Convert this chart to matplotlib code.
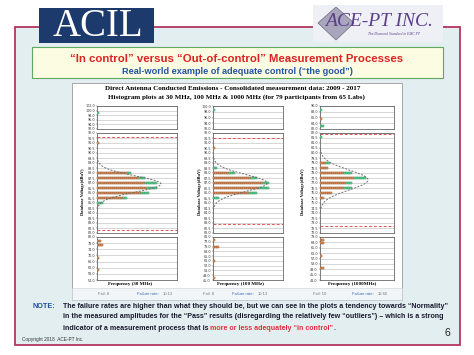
import matplotlib
matplotlib.use('Agg')
import matplotlib.pyplot as plt
import numpy as np
from matplotlib.patches import Rectangle, Polygon

# ---------------- data ----------------
freq_labels = ["Frequency (30 MHz)", "Frequency (100 MHz)", "Frequency (1000MHz)"]
fail_counts = [8, 8, 10]
failure_rates = ["10.13", "10.13", "12.66"]

# panel 1: 30 MHz
p1_top_vals = [99.0]
p1_top_orange = [0]
p1_top_green = [1]
p1_mid_vals = [91.0, 88.0, 87.5, 87.0, 86.5, 86.0, 85.5, 85.0]
p1_mid_orange = [1, 15, 21, 24, 25, 22, 13, 0]
p1_mid_green = [0, 2, 3, 6, 5, 4, 2, 3]
p1_bot_vals = [79.5, 76.5, 68.5, 60.5]
p1_bot_orange = [2, 3, 1, 1]
p1_bot_green = [0, 0, 0, 0]
p1_limits = [91.6, 82.3]
p1_fit = [86.9, 0.8, 32.0]   # mean, sd, peak

# panel 2: 100 MHz
p2_top_vals = [98.5]
p2_top_orange = [0]
p2_top_green = [1]
p2_mid_vals = [90.5, 88.5, 88.0, 87.5, 87.0, 86.5, 86.0, 85.5]
p2_mid_orange = [1, 0, 8, 19, 25, 23, 18, 0]
p2_mid_green = [0, 2, 3, 3, 3, 5, 4, 3]
p2_bot_vals = [78.5, 73.0, 60.5, 47.0]
p2_bot_orange = [1, 3, 1, 1]
p2_bot_green = [0, 0, 0, 0]
p2_limits = [91.5, 82.9]
p2_fit = [87.0, 0.85, 27.0]

# panel 3: 1000 MHz
p3_top_vals = [88.5, 85.5, 83.0]
p3_top_orange = [0, 1, 0]
p3_top_green = [1, 0, 2]
p3_mid_vals = [81.6, 79.0, 78.5, 78.0, 77.5, 77.0, 76.5, 76.0, 75.5]
p3_mid_orange = [0, 3, 4, 12, 17, 13, 12, 6, 2]
p3_mid_green = [1, 2, 0, 4, 6, 3, 4, 0, 0]
p3_bot_vals = [71.0, 68.5, 58.5, 50.0]
p3_bot_orange = [2, 2, 1, 2]
p3_bot_green = [0, 0, 0, 0]
p3_limits = [81.9, 72.7]
p3_fit = [77.3, 1.0, 24.0]

# ---------------- layout helpers ----------------
W, H = 474, 355
fig = plt.figure(figsize=(4.74, 3.55), dpi=100)

def ax_px(x0, y0, x1, y1):
    return fig.add_axes([x0 / W, 1 - y1 / H, (x1 - x0) / W, (y1 - y0) / H])

bg = ax_px(0, 0, W, H)
bg.set_xlim(0, W)
bg.set_ylim(H, 0)
bg.axis('off')

TXT = '#1a1a2e'

# slide frame
bg.add_patch(Rectangle((15, 27), 445, 318, fc='#e3eef0', ec='#b5365e', lw=1.3, zorder=1))

# ACIL logo
bg.add_patch(Rectangle((39, 8), 115, 35, fc='#1d3a6c', ec='none', zorder=3))
bg.text(98, 26, "ACIL", color='white', fontsize=28, family='Liberation Serif',
        ha='center', va='center', zorder=4)

# ACE-PT logo
bg.add_patch(Rectangle((313, 5), 130, 37, fc='#eef0f5', ec='none', zorder=3))
bg.add_patch(Polygon([[336, 7], [354, 23], [336, 40], [318, 23]], closed=True,
                     fc='#a9a6bb', ec='#6d6a85', lw=0.5, zorder=4))
bg.text(325, 21, "ACE-PT INC.", color='#5b3f8e', fontsize=14, family='Liberation Serif',
        style='italic', ha='left', va='center', zorder=5)
bg.text(394, 34, "The Diamond Standard in EMC PT", color='#5b3f8e', fontsize=2.6,
        family='Liberation Serif', style='italic', ha='center', va='center', zorder=5)

# title box
bg.add_patch(Rectangle((32, 47), 411, 31, fc='#fbfce2', ec='#5fa860', lw=0.8, zorder=2))
bg.text(237, 58.5, "\u201cIn control\u201d versus \u201cOut-of-control\u201d Measurement Processes",
        color='#dd2222', fontsize=8.2, fontweight='bold', family='Liberation Sans',
        ha='center', va='center', zorder=3)
bg.text(237, 71.5, "Real-world example of adequate control (\u201cthe good\u201d)",
        color='#1f56a8', fontsize=6.6, fontweight='bold', family='Liberation Sans',
        ha='center', va='center', zorder=3)

# chart image frame
bg.add_patch(Rectangle((72, 83), 330, 217, fc='white', ec='#999999', lw=0.6, zorder=2))
bg.add_patch(Rectangle((72, 288), 330, 12, fc='#f2f5f8', ec='#c8d0d8', lw=0.4, zorder=2))
bg.text(233, 88.5, "Direct Antenna Conducted Emissions - Consolidated measurement data: 2009 - 2017",
        fontsize=5.1, fontweight='bold', family='Liberation Serif', ha='center', va='center', zorder=3)
bg.text(236, 97, "Histogram plots at 30 MHz, 100 MHz & 1000 MHz (for 79 participants from 65 Labs)",
        fontsize=5.0, fontweight='bold', family='Liberation Serif', ha='center', va='center', zorder=3)

# notes
FS = 5.1
bg.text(33, 306, "NOTE:", color='#1f4e9a', fontsize=5.2, fontweight='bold',
        family='Liberation Sans', ha='left', va='center', zorder=3)
note_lines = [
    "The failure rates are higher than what they should be, but we can see in the plots a tendency towards \u201cNormality\u201d",
    "in the measured amplitudes for the \u201cPass\u201d results (disregarding the relatively few \u201coutliers\u201d) \u2013 which is a strong",
]
bg.text(63, 306, note_lines[0], color=TXT, fontsize=FS, fontweight='bold',
        family='Liberation Sans', ha='left', va='center', zorder=3)
bg.text(63, 317, note_lines[1], color=TXT, fontsize=FS, fontweight='bold',
        family='Liberation Sans', ha='left', va='center', zorder=3)
t3 = bg.text(63, 328, "indicator of a measurement process that is ", color=TXT, fontsize=FS,
             fontweight='bold', family='Liberation Sans', ha='left', va='center', zorder=3)
fig.canvas.draw()
bb = t3.get_window_extent()
x_end = bg.transData.inverted().transform((bb.x1, bb.y0))[0]
t4 = bg.text(x_end, 328, "more or less adequately \u201cin control\u201d", color='#e0303a', fontsize=FS,
             fontweight='bold', family='Liberation Sans', ha='left', va='center', zorder=3)
fig.canvas.draw()
bb4 = t4.get_window_extent()
x_end2 = bg.transData.inverted().transform((bb4.x1, bb4.y0))[0]
bg.text(x_end2, 328, ".", color=TXT, fontsize=FS, fontweight='bold',
        family='Liberation Sans', ha='left', va='center', zorder=3)
bg.text(22, 339, "Copyright 2018  ACE-PT Inc.", color='#333333', fontsize=3.4,
        family='Liberation Sans', ha='left', va='center', zorder=3)
bg.text(447, 333, "6", color='#222222', fontsize=7.5, family='Liberation Sans',
        ha='center', va='center', zorder=3)

# ---------------- panels ----------------
ORANGE_FC, ORANGE_EC = '#f3aa78', '#8a4a20'
GREEN_FC, GREEN_EC = '#6fe0a0', '#2a8a5a'

def style(ax, ylim, ticks):
    ax.set_ylim(*ylim)
    ax.set_yticks(ticks)
    ax.set_yticklabels([f"{t:.1f}" for t in ticks])
    ax.tick_params(axis='y', labelsize=2.4, length=1, width=0.3, pad=0.6, colors='#333333')
    ax.set_xticks([])
    ax.grid(axis='y', color='#b8b8b8', lw=0.4)
    ax.set_axisbelow(True)
    for s in ax.spines.values():
        s.set_color('#666666')
        s.set_linewidth(0.6)

def rows(ax, vals, orange, green):
    for v, o, g in zip(vals, orange, green):
        if o:
            xs = np.arange(o) + 0.5
            ax.scatter(xs, [v] * o, marker='s', s=4.0, fc=ORANGE_FC, ec=ORANGE_EC, lw=0.35, zorder=3)
        if g:
            xs = np.arange(o, o + g) + 0.5
            ax.scatter(xs, [v] * g, marker='s', s=4.0, fc=GREEN_FC, ec=GREEN_EC, lw=0.35, zorder=3)

panels = [
    dict(x0=97, x1=177, xmax=40,
         top=(p1_top_vals, p1_top_orange, p1_top_green), top_lim=(92, 102), top_ticks=np.arange(92, 102.1, 2),
         mid=(p1_mid_vals, p1_mid_orange, p1_mid_green), mid_lim=(82, 92), mid_ticks=np.arange(82, 92.01, 0.5),
         bot=(p1_bot_vals, p1_bot_orange, p1_bot_green), bot_lim=(54, 82), bot_ticks=np.arange(54, 82.1, 4),
         limits=p1_limits, fit=p1_fit, ylab_x=83, xlab_x=130, fail_x=98, rate_x=137),
    dict(x0=213, x1=283, xmax=35,
         top=(p2_top_vals, p2_top_orange, p2_top_green), top_lim=(92, 100), top_ticks=np.arange(92, 100.1, 2),
         mid=(p2_mid_vals, p2_mid_orange, p2_mid_green), mid_lim=(82, 92), mid_ticks=np.arange(82, 92.01, 0.5),
         bot=(p2_bot_vals, p2_bot_orange, p2_bot_green), bot_lim=(45, 81), bot_ticks=np.arange(45, 81.1, 4),
         limits=p2_limits, fit=p2_fit, ylab_x=200, xlab_x=240, fail_x=203, rate_x=232),
    dict(x0=320, x1=394, xmax=37,
         top=(p3_top_vals, p3_top_orange, p3_top_green), top_lim=(82, 90), top_ticks=np.arange(82, 90.1, 2),
         mid=(p3_mid_vals, p3_mid_orange, p3_mid_green), mid_lim=(72, 82), mid_ticks=np.arange(72, 82.01, 0.5),
         bot=(p3_bot_vals, p3_bot_orange, p3_bot_green), bot_lim=(41, 73), bot_ticks=np.arange(41, 73.1, 4),
         limits=p3_limits, fit=p3_fit, ylab_x=303, xlab_x=352, fail_x=313, rate_x=352),
]

for i, p in enumerate(panels):
    at = ax_px(p['x0'], 106, p['x1'], 129)
    am = ax_px(p['x0'], 133, p['x1'], 233)
    ab = ax_px(p['x0'], 237, p['x1'], 280)
    for ax, key in ((at, 'top'), (am, 'mid'), (ab, 'bot')):
        ax.set_xlim(0, p['xmax'])
        style(ax, p[key + '_lim'], p[key + '_ticks'])
        rows(ax, *p[key])
    for lim in p['limits']:
        am.axhline(lim, color='#e05858', lw=0.7, ls=(0, (3, 2)), zorder=2)
    mu, sd, pk = p['fit']
    yy = np.linspace(mu - 3.2 * sd, mu + 3.2 * sd, 200)
    xx = pk * np.exp(-(yy - mu) ** 2 / (2 * sd ** 2))
    am.plot(xx, yy, color='#6f6f6f', lw=0.7, ls=(0, (2, 1.5)), zorder=4)

    bg.text(p['ylab_x'], 192, "Database Voltage(dBuV)", rotation=90, fontsize=3.2,
            fontweight='bold', family='Liberation Serif', ha='center', va='center', zorder=3)
    bg.text(p['xlab_x'], 284, freq_labels[i], fontsize=3.6, fontweight='bold',
            family='Liberation Serif', ha='center', va='center', zorder=3)
    bg.text(p['fail_x'], 294, f"Fail: {fail_counts[i]}", fontsize=3.0, color='#777777',
            family='Liberation Sans', ha='left', va='center', zorder=3)
    bg.text(p['rate_x'], 294, "Failure rate:", fontsize=3.0, color='#3a6ab0',
            family='Liberation Sans', ha='left', va='center', zorder=3)
    bg.text(p['rate_x'] + 26, 294, failure_rates[i], fontsize=3.0, color='#777777',
            family='Liberation Sans', ha='left', va='center', zorder=3)

fig.savefig('out.png', dpi=100)
